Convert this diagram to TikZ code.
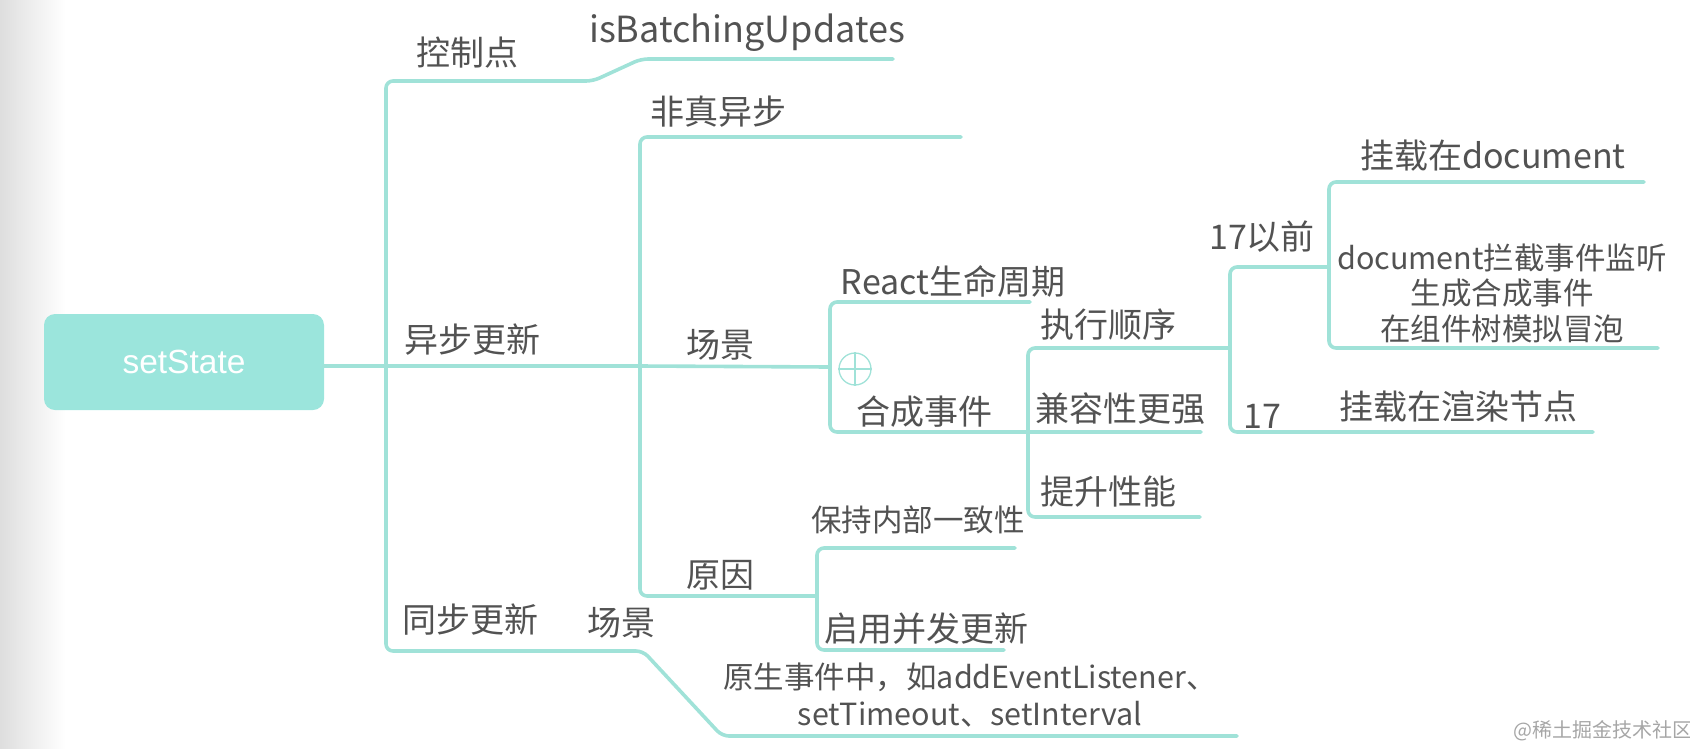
\documentclass[tikz,border=0pt]{standalone}
\usepackage{fontspec}
\setmainfont{Noto Sans CJK SC}
\newfontfamily\rootfont{Liberation Sans}
\usepackage{tikz}
\usetikzlibrary{positioning, calc}

\definecolor{maptrunk}{RGB}{160,226,216}
\definecolor{maproot}{RGB}{155,229,220}
\definecolor{maptext}{RGB}{82,82,82}

\begin{document}
\begin{tikzpicture}[
    x=1pt, y=-1pt,
    every node/.style={inner sep=0pt, text=maptext, font=\fontsize{34}{40}\selectfont},
    branch/.style={maptrunk, line width=3.6pt, rounded corners=7pt, line cap=round},
    smalllabel/.style={font=\fontsize{30.5}{35.5}\selectfont, align=center},
    rootbox/.style={fill=maproot, rounded corners=11pt, minimum width=280pt, minimum height=96pt,
        text=white, font=\rootfont\fontsize{33.5}{36}\selectfont},
    foldmark/.style={circle, draw=maptrunk, fill=white, line width=1.3pt, minimum size=32pt}
]

\def\xA{386}    % 一级主干
\def\xB{640}    % 异步更新
\def\xC{830}    % 场景
\def\xD{1028}   % 合成事件
\def\xE{1230}   % 执行顺序
\def\xF{1329}   % 17以前
\def\xG{817}    % 原因

\useasboundingbox (0,0) rectangle (1690,748);
% 左侧灰边
\shade[left color=black!13, right color=white] (0,0) rectangle (65,748);

% 中心主题
\node[rootbox] (root) at (184,362) {setState};

% 各级交点
\coordinate (jA) at (\xA,366);
\coordinate (jB) at (\xB,366);
\coordinate (jC) at (\xC,367);
\coordinate (jD) at (\xD,432);
\coordinate (jE) at (\xE,348);
\coordinate (jF) at (\xF,267);
\coordinate (jG) at (\xG,596);

% 分支末端
\coordinate (ctrl-e)      at (593,81);
\coordinate (batch-s)     at (641,59);
\coordinate (batch-e)     at (893,59);
\coordinate (fake-e)      at (961,137);
\coordinate (react-e)     at (1030,302);
\coordinate (compat-e)    at (1201,432);
\coordinate (perf-e)      at (1200,517);
\coordinate (doc-e)       at (1644,182);
\coordinate (intercept-e) at (1658,348);
\coordinate (v17-e)       at (1593,432);
\coordinate (keep-e)      at (1015,548);
\coordinate (conc-e)      at (1004,650);
\coordinate (sync-e)      at (643,651);
\coordinate (native-s)    at (722,736);
\coordinate (native-e)    at (1237,736);

% 连线
\draw[branch] (root.east |- jA) -- (jA) -- (jB) -- (jC);
\draw[branch] (batch-e) -- (batch-s) -- (ctrl-e) -- (jA |- ctrl-e) -- (jA |- sync-e)
    -- (sync-e) -- (native-s) -- (native-e);
\draw[branch] (fake-e) -- (jB |- fake-e) -- (jB |- jG) -- (jG);
\draw[branch] (react-e) -- (jC |- react-e) -- (jC |- jD) -- (compat-e);
\draw[branch] (jE) -- (jD |- jE) -- (jD |- perf-e) -- (perf-e);
\draw[branch] (jF) -- (jE |- jF) -- (jE |- v17-e) -- (v17-e);
\draw[branch] (doc-e) -- (jF |- doc-e) -- (jF |- intercept-e) -- (intercept-e);
\draw[branch] (keep-e) -- (jG |- keep-e) -- (jG |- conc-e) -- (conc-e);

% 折叠标记
\node[foldmark] (fold) at (855,369) {};
\draw[maptrunk, line width=1.3pt] (fold.north) -- (fold.south) (fold.west) -- (fold.east);

% 标签
\node (ctrl) at (467,53) {控制点};
\node[font=\fontsize{36}{40}\selectfont] (batch) at (747,33) {isBatchingUpdates};
\node (async) at (472,340) {异步更新};
\node (sync) at (470,620) {同步更新};
\node (fake) at (718,112) {非真异步};
\node (scene) at (720,345) {场景};
\node (reason) at (720,575) {原因};
\node (react) at (953,281) {React生命周期};
\node (synth) at (924,412) {合成事件};
\node (order) at (1108,325) {执行顺序};
\node (compat) at (1120,409) {兼容性更强};
\node (perf) at (1108,492) {提升性能};
\node (before) at (1262,237) {17以前};
\node (v17) at (1262,416) {17};
\node (docmount) at (1493,156) {挂载在document};
\node[smalllabel] (intercept) at (1502,293) {document拦截事件监听\\生成合成事件\\在组件树模拟冒泡};
\node (rendermount) at (1458,407) {挂载在渲染节点};
\node[smalllabel] (keep) at (918,520) {保持内部一致性};
\node (conc) at (926,629) {启用并发更新};
\node (syncscene) at (621,623) {场景};
\node[smalllabel, font=\fontsize{30.5}{37}\selectfont] (native) at (970,695)
    {原生事件中，如addEventListener、\\setTimeout、setInterval};
\node[font=\fontsize{20}{22}\selectfont, text=black!35] (mark) at (1603,731) {@稀土掘金技术社区};

\end{tikzpicture}
\end{document}
